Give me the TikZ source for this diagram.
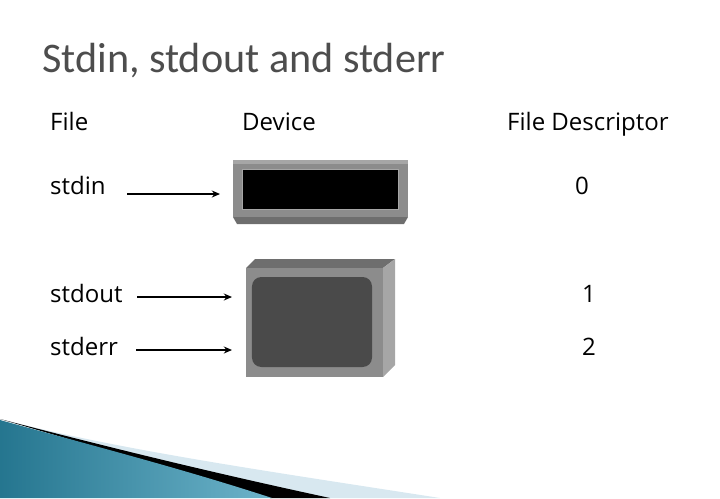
\documentclass[tikz,border=0pt]{standalone}
\usepackage{fontspec}
\setmainfont{Open Sans}
\newfontfamily\titlefont{Carlito}
\usetikzlibrary{arrows.meta}
\definecolor{titlegray}{HTML}{4D4D4D}
\definecolor{frontgray}{HTML}{8C8C8C}
\definecolor{lightgray}{HTML}{A6A6A6}
\definecolor{darkgray}{HTML}{6E6E6E}
\definecolor{screengray}{HTML}{4A4A4A}
\definecolor{swoosh}{HTML}{2E93B3}
\definecolor{swooshlight}{HTML}{D8E8F0}
\tikzset{
  label/.style={anchor=base west, inner sep=0pt, font=\fontsize{20.5}{24}\selectfont},
  stream/.style={-{Stealth[length=7pt,width=6pt]}, line width=1.3pt}
}
\begin{document}
\begin{tikzpicture}[x=0.03cm, y=-0.03cm]
\useasboundingbox (0,0) rectangle (720,498);
% title
\node[anchor=base west, inner sep=0pt, text=titlegray, font=\titlefont\fontsize{36}{42}\selectfont] (title) at (42,72) {Stdin, stdout and stderr};
% column heads
\node[label] (hfile) at (50,130) {File};
\node[label] (hdev) at (242,130) {Device};
\node[label] (hfd) at (507,130) {File Descriptor};
% rows
\node[label] (stdin) at (50,194) {stdin};
\node[label] (stdout) at (50,302) {stdout};
\node[label] (stderr) at (50,355) {stderr};
\node[label] (fd0) at (575,194) {0};
\node[label] (fd1) at (582,302) {1};
\node[label] (fd2) at (582,355) {2};
% keyboard-like box
\fill[darkgray] (233,217) -- (408,217) -- (404,224) -- (237,224) -- cycle;
\fill[frontgray] (233,160) rectangle (408,217);
\fill[lightgray] (233,160) rectangle (408,164);
\node[fill=black, draw=lightgray, line width=0.8pt, minimum width=4.7cm, minimum height=1.2cm, inner sep=0pt] (kbd) at (320.5,189) {};
% monitor
\fill[darkgray] (246,268) -- (255,259) -- (395,259) -- (383,268) -- cycle;
\fill[lightgray] (383,268) -- (395,259) -- (395,365) -- (383,377) -- cycle;
\fill[frontgray] (246,268) rectangle (383,377);
\node[fill=screengray, rounded corners=8pt, minimum width=3.6cm, minimum height=2.7cm, inner sep=0pt] (mon) at (312,322) {};
% arrows
\coordinate (kin) at (220,194);
\coordinate (oin) at (232,297);
\coordinate (ein) at (232,350);
\draw[stream] (127,194) -- (kin);
\draw[stream] (137,297) -- (oin);
\draw[stream] (136,350) -- (ein);
% swoosh
\fill[swooshlight] (0,419) .. controls (120,450) and (260,470) .. (440,498) -- (280,498) -- cycle;
\fill[black] (0,419) .. controls (100,445) and (200,470) .. (330,498) -- (270,498) -- cycle;
\shade[left color=swoosh!80!black, right color=swoosh!70!white] (0,420) .. controls (90,445) and (180,468) .. (272,498) -- (0,498) -- cycle;
\end{tikzpicture}
\end{document}
